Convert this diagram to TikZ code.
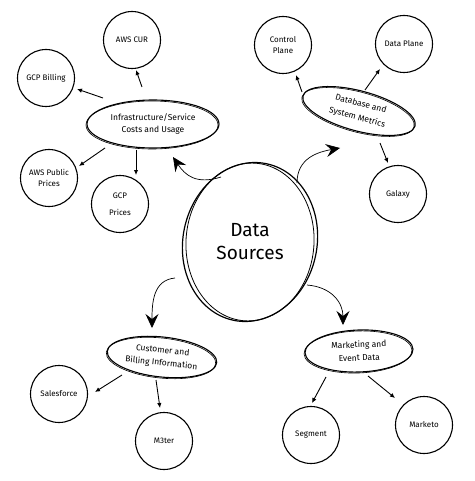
\documentclass[tikz,border=0pt]{standalone}
\usepackage{fontspec}
\setmainfont{Fira Sans}
\usetikzlibrary{arrows.meta,positioning,calc,shapes.geometric}

\tikzset{
  source/.style={circle,draw,line width=1.1pt,minimum size=57pt,inner sep=1pt,
    align=center,font=\fontsize{8}{11}\selectfont},
  topic/.style={ellipse,draw,line width=1.1pt,inner sep=0pt,align=center,
    font=\fontsize{8.5}{13}\selectfont,
    preaction={draw,line width=0.6pt,transform canvas={shift={(-1pt,-1pt)}}}},
  link/.style={-{Latex[length=5pt,width=4.5pt]},line width=0.9pt},
  feed/.style={-{Stealth[length=14pt,width=13pt,inset=5pt]},line width=0.7pt},
}

\begin{document}
\begin{tikzpicture}[x=1pt,y=-1pt]
  \useasboundingbox (0,0) rectangle (474,481);

  % hub
  \node[font=\fontsize{19}{23}\selectfont,align=center] (ds) at (250,242) {Data\\Sources};
  \draw[line width=1.2pt,rotate around={-12:(ds.center)}] (ds.center) ellipse [x radius=67,y radius=80];
  \draw[line width=0.8pt,rotate around={-4:(ds.center)}] (ds.center) ellipse [x radius=64,y radius=79];

  % topics
  \node[topic,minimum width=132pt,minimum height=48pt,font=\fontsize{8.5}{12}\selectfont] (infra) at (153,124) {Infrastructure/Service\\Costs and Usage};
  \node[topic,minimum width=116pt,minimum height=40pt,rotate=-15,font=\fontsize{8.5}{14}\selectfont] (db) at (359,111) {Database and\\System Metrics};
  \node[topic,minimum width=110pt,minimum height=40pt,rotate=-6] (cust) at (162,357) {Customer and\\Billing Information};
  \node[topic,minimum width=108pt,minimum height=42pt,rotate=2] (mkt) at (359,351) {Marketing and\\Event Data};

  % sources
  \node[source] (awscur) at (132,40) {AWS CUR};
  \node[source] (gcpbill) at (46,78) {GCP Billing};
  \node[source] (awspub) at (49,178) {AWS Public\\Prices};
  \node[source,font=\fontsize{8}{17}\selectfont] (gcpp) at (120,204) {GCP\\Prices};
  \node[source] (ctrl) at (283,45) {Control\\Plane};
  \node[source] (dplane) at (404,44) {Data Plane};
  \node[source] (galaxy) at (398,194) {Galaxy};
  \node[source] (sfdc) at (59,394) {Salesforce};
  \node[source] (m3ter) at (164,441) {M3ter};
  \node[source] (segment) at (311,435) {Segment};
  \node[source] (marketo) at (424,425) {Marketo};

  % hub to topics
  \draw[feed] ($(ds)+(-29,-65)$) .. controls +(-25,8) and +(12,18) .. ($(infra)+(20,33)$);
  \draw[feed] ($(ds)+(47,-59)$) .. controls +(0,-25) and +(-22,4) .. ($(db)+(-19,37)$);
  \draw[feed] ($(ds)+(-75,36)$) .. controls +(-22,2) and +(0,-25) .. ($(cust)+(-10,-29)$);
  \draw[feed] ($(ds)+(57,43)$) .. controls +(25,2) and +(0,-22) .. ($(mkt)+(-16,-26)$);

  % topics to sources
  \foreach \a/\sa/\b/\eb in {infra/{-11,-37}/awscur/{4,30}, infra/{-50,-26}/gcpbill/{31,11},
      infra/{-48,24}/awspub/{30,-12}, infra/{-17,26}/gcpp/{16,-29},
      db/{-57,-19}/ctrl/{13,30}, db/{6,-21}/dplane/{-24,25}, db/{21,32}/galaxy/{-10,-31},
      cust/{-40,18}/sfdc/{36,-2}, cust/{-6,23}/m3ter/{-4,-33},
      mkt/{-33,26}/segment/{1,-32}, mkt/{9,25}/marketo/{-29,-27}}
    \draw[link] ($(\a)+(\sa)$) -- ($(\b)+(\eb)$);
\end{tikzpicture}
\end{document}
